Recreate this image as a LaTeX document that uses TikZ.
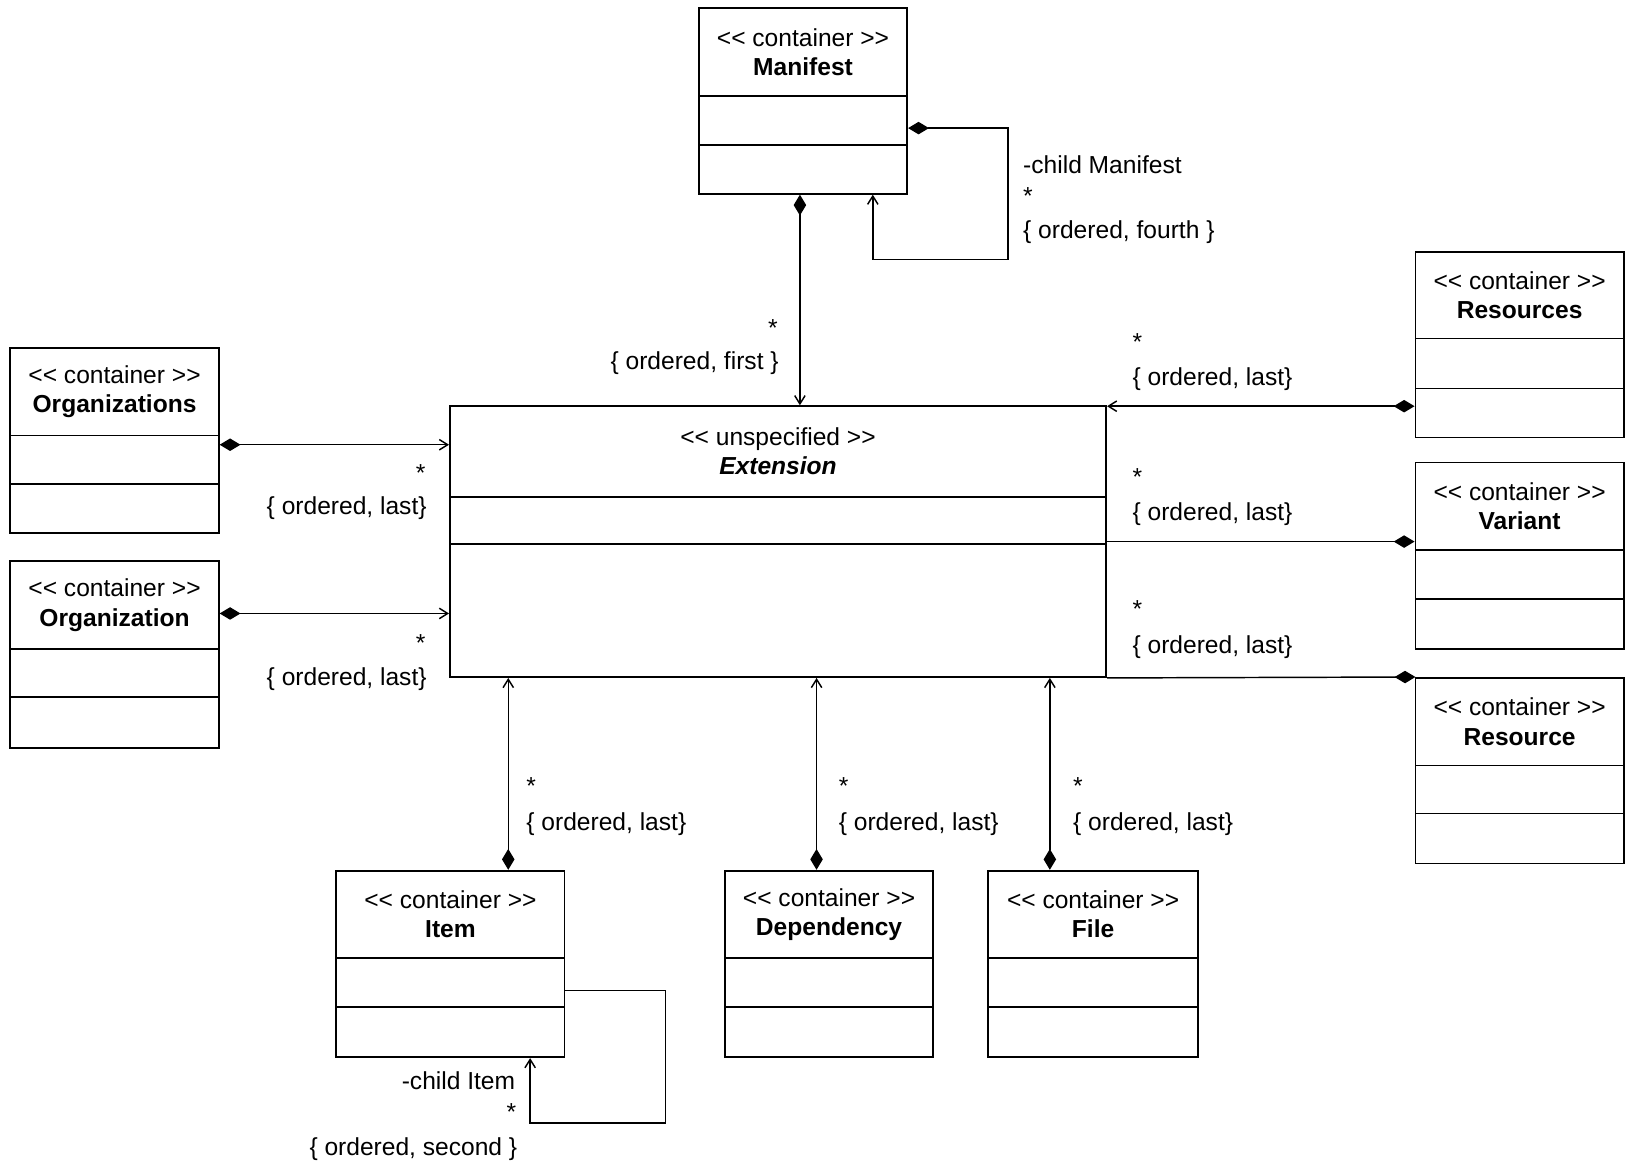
\documentclass[tikz,border=0pt]{standalone}
\usepackage{fontspec}
\setmainfont{Liberation Sans}[Ligatures=NoCommon]
\usetikzlibrary{arrows.meta,fit}
\tikzset{
 box/.style={draw,line width=0.9pt,inner sep=0pt},
 dv/.style={line width=0.8pt},
 conn/.style={line width=0.7pt},
 comp/.style={conn,{Diamond[length=10pt,width=6pt]}-{Straight Barb[length=4pt,width=5pt]}},
 compn/.style={conn,{Diamond[length=10pt,width=6pt]}-},
 lbl/.style={font=\fontsize{11.8}{14}\selectfont,inner sep=0pt},
 ttl/.style={align=center,font=\fontsize{11.8}{14}\selectfont,inner sep=0pt}
}
\newcommand\lt{{<}{<}}
\newcommand\gt{{>}{>}}
\newcommand\ubox[9]{%
 \coordinate (#1a) at (#2,#3); \coordinate (#1b) at (#4,#5);
 \node[box,fit=(#1a)(#1b)] (#1) {};
 \draw[dv] (#2,#6)--(#4,#6); \draw[dv] (#2,#7)--(#4,#7);
 \node[ttl] (#1t) at ({(#2+#4)/2},{(#3+#6)/2}) {#8\\#9};}
\begin{document}
\begin{tikzpicture}[x=0.5pt,y=-0.5pt]
\useasboundingbox (0,0) rectangle (1565,1118.6);
\ubox{man}{671}{8}{871}{186}{92}{139}{\lt{} container \gt}{\textbf{Manifest}}
\ubox{orgs}{10}{334}{210}{512}{418}{465}{\lt{} container \gt}{\textbf{Organizations}}
\ubox{org}{10}{539}{210}{718}{623}{669}{\lt{} container \gt}{\textbf{Organization}}
\ubox{ext}{432}{390}{1062}{650}{477}{522}{\lt{} unspecified \gt}{\textbf{\itshape Extension}}
\ubox{ress}{1359}{242}{1559}{420}{325}{373}{\lt{} container \gt}{\textbf{Resources}}
\ubox{var}{1359}{444}{1559}{623}{528}{575}{\lt{} container \gt}{\textbf{Variant}}
\ubox{res}{1359}{651}{1559}{829}{735}{781}{\lt{} container \gt}{\textbf{Resource}}
\ubox{item}{323}{836}{542}{1015}{920}{967}{\lt{} container \gt}{\textbf{Item}}
\ubox{dep}{696}{836}{896}{1015}{920}{967}{\lt{} container \gt}{\textbf{Dependency}}
\ubox{file}{949}{836}{1150}{1015}{920}{967}{\lt{} container \gt}{\textbf{File}}
% Manifest self
\coordinate (m1) at (968,123); \coordinate (m2) at (968,249); \coordinate (m3) at (838,249);
\draw[comp] (man.east |- m1) -- (m1) -- (m2) -- (m3) -- (man.south -| m3);
\node[lbl,anchor=west] at (982,158) {-child Manifest};
\node[lbl] at (987,188) {*};
\node[lbl,anchor=west] at (982,223) {\{ ordered, fourth \}};
% Manifest -> Extension
\coordinate (a1) at (768,0);
\draw[comp] (man.south -| a1) -- (ext.north -| a1);
\node[lbl] at (742,315) {*};
\node[lbl,anchor=east] at (748,349) {\{ ordered, first \}};
% right side
\coordinate (r1) at (0,390); \coordinate (r2) at (0,520); \coordinate (r3) at (0,650);
\draw[comp] (ress.west |- r1) -- (ext.east |- r1);
\draw[compn] (var.west |- r2) -- (ext.east |- r2);
\draw[compn] (1359,650) -- (ext.south east);
\foreach \y in {0,130,257}{
 \node[lbl] at (1092,{328+\y}) {*};
 \node[lbl,anchor=west] at (1087,{364+\y}) {\{ ordered, last\}};}
% left side
\coordinate (l1) at (0,427); \coordinate (l2) at (0,589);
\draw[comp] (orgs.east |- l1) -- (ext.west |- l1);
\draw[comp] (org.east |- l2) -- (ext.west |- l2);
\node[lbl] at (404,454) {*};
\node[lbl,anchor=east] at (410,488) {\{ ordered, last\}};
\node[lbl] at (404,617) {*};
\node[lbl,anchor=east] at (410,652) {\{ ordered, last\}};
% bottom
\coordinate (b1) at (488,0); \coordinate (b2) at (784,0); \coordinate (b3) at (1008,0);
\draw[comp] (item.north -| b1) -- (ext.south -| b1);
\draw[comp] (dep.north -| b2) -- (ext.south -| b2);
\draw[comp] (file.north -| b3) -- (ext.south -| b3);
\foreach \x in {510,810,1035}{
 \node[lbl] at (\x,755) {*};
 \node[lbl,anchor=west] at ({\x-5},791) {\{ ordered, last\}};}
% Item self
\coordinate (i1) at (639,951); \coordinate (i2) at (639,1078); \coordinate (i3) at (509,1078);
\draw[conn,-{Straight Barb[length=4pt,width=5pt]}] (item.east |- i1) -- (i1) -- (i2) -- (i3) -- (item.south -| i3);
\node[lbl,anchor=east] at (495,1038) {-child Item};
\node[lbl] at (491,1068) {*};
\node[lbl,anchor=east] at (497,1103) {\{ ordered, second \}};
\end{tikzpicture}
\end{document}
